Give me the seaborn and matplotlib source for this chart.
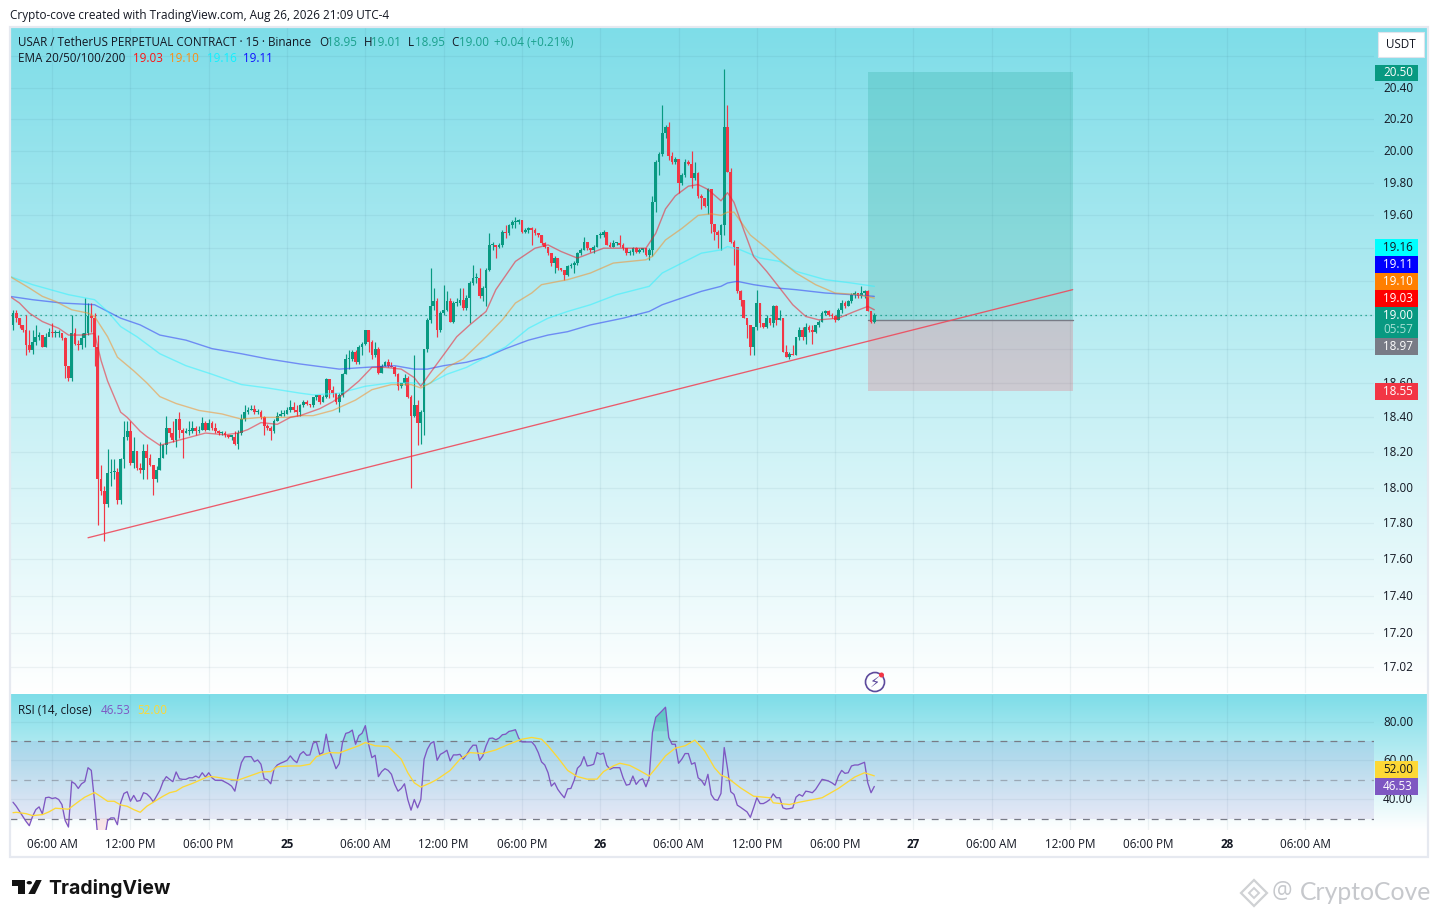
"""USAR/USDT 15m chart with EMAs, long position box and RSI pane."""
import matplotlib

matplotlib.use("Agg")
import matplotlib.pyplot as plt
import numpy as np
import seaborn as sns
from matplotlib.colors import LinearSegmentedColormap
from matplotlib.lines import Line2D
from matplotlib.patches import Circle, Polygon, Rectangle
from matplotlib.ticker import NullFormatter, NullLocator
from matplotlib.transforms import ScaledTranslation

W, H = 1438, 918

first_open = 18.94
closes = [
    19.01, 18.98, 18.94, 18.91, 18.82, 18.79, 18.84, 18.87, 18.88, 18.81,
    18.87, 18.90, 18.89, 18.89, 18.89, 18.86, 18.70, 18.63, 18.89, 18.83,
    18.82, 18.86, 18.89, 18.99, 18.98, 18.81, 18.05, 17.98, 17.91, 18.08,
    18.09, 18.09, 17.93, 18.16, 18.29, 18.32, 18.14, 18.21, 18.11, 18.10,
    18.21, 18.17, 18.13, 18.05, 18.10, 18.17, 18.24, 18.34, 18.31, 18.27,
    18.39, 18.33, 18.31, 18.32, 18.32, 18.34, 18.32, 18.33, 18.37, 18.33,
    18.37, 18.34, 18.32, 18.31, 18.31, 18.30, 18.29, 18.29, 18.25, 18.31,
    18.39, 18.43, 18.44, 18.45, 18.43, 18.43, 18.40, 18.35, 18.34, 18.32,
    18.38, 18.41, 18.42, 18.42, 18.44, 18.46, 18.44, 18.43, 18.47, 18.49,
    18.48, 18.47, 18.52, 18.53, 18.49, 18.52, 18.62, 18.56, 18.54, 18.49,
    18.53, 18.65, 18.74, 18.74, 18.78, 18.72, 18.81, 18.83, 18.91, 18.84,
    18.76, 18.80, 18.66, 18.70, 18.72, 18.70, 18.69, 18.65, 18.58, 18.60,
    18.63, 18.52, 18.41, 18.47, 18.37, 18.43, 18.80, 18.97, 19.05, 19.08,
    18.91, 19.01, 19.03, 19.08, 18.96, 19.07, 19.07, 19.09, 19.04, 19.10,
    19.19, 19.22, 19.22, 19.11, 19.16, 19.27, 19.42, 19.42, 19.41, 19.42,
    19.50, 19.49, 19.54, 19.56, 19.56, 19.57, 19.50, 19.51, 19.52, 19.51,
    19.49, 19.48, 19.43, 19.41, 19.37, 19.31, 19.34, 19.28, 19.27, 19.24,
    19.29, 19.30, 19.31, 19.37, 19.39, 19.44, 19.40, 19.39, 19.41, 19.48,
    19.48, 19.50, 19.42, 19.41, 19.43, 19.43, 19.42, 19.40, 19.37, 19.38,
    19.40, 19.38, 19.39, 19.40, 19.36, 19.39, 19.68, 19.93, 19.98, 20.11,
    20.15, 19.97, 19.93, 19.95, 19.80, 19.85, 19.93, 19.92, 19.83, 19.86,
    19.72, 19.71, 19.66, 19.76, 19.55, 19.50, 19.48, 19.54, 20.15, 19.87,
    19.44, 19.41, 19.14, 19.09, 18.98, 18.94, 18.81, 18.93, 19.07, 18.95,
    18.93, 18.98, 18.95, 19.05, 18.97, 18.98, 18.78, 18.75, 18.77, 18.76,
    18.87, 18.91, 18.87, 18.93, 18.91, 18.90, 18.94, 18.96, 19.01, 19.02,
    19.00, 18.99, 18.97, 19.03, 19.07, 19.05, 19.08, 19.12, 19.13, 19.11,
    19.13, 19.14, 19.02, 18.96, 19.00,
]
highs = [
    19.03, 19.03, 18.98, 18.94, 19.00, 18.91, 18.91, 18.94, 18.90, 18.87,
    18.89, 18.92, 18.95, 18.91, 18.91, 18.88, 18.87, 18.70, 19.00, 18.92,
    18.85, 18.89, 19.10, 19.07, 19.07, 19.01, 18.88, 18.13, 18.01, 18.22,
    18.16, 18.16, 18.11, 18.17, 18.38, 18.38, 18.38, 18.29, 18.21, 18.14,
    18.25, 18.25, 18.19, 18.13, 18.12, 18.26, 18.25, 18.41, 18.34, 18.38,
    18.39, 18.43, 18.34, 18.34, 18.38, 18.38, 18.35, 18.35, 18.40, 18.38,
    18.39, 18.38, 18.37, 18.33, 18.32, 18.32, 18.30, 18.30, 18.32, 18.33,
    18.42, 18.47, 18.46, 18.47, 18.47, 18.45, 18.44, 18.41, 18.36, 18.35,
    18.39, 18.43, 18.44, 18.44, 18.46, 18.50, 18.49, 18.47, 18.48, 18.50,
    18.50, 18.48, 18.52, 18.53, 18.53, 18.53, 18.63, 18.61, 18.58, 18.53,
    18.54, 18.66, 18.77, 18.79, 18.79, 18.79, 18.82, 18.84, 18.91, 18.91,
    18.85, 18.84, 18.81, 18.71, 18.73, 18.74, 18.72, 18.70, 18.66, 18.60,
    18.65, 18.64, 18.53, 18.76, 18.50, 18.44, 18.80, 18.98, 19.28, 19.16,
    19.10, 19.02, 19.18, 19.14, 19.10, 19.08, 19.10, 19.16, 19.16, 19.12,
    19.20, 19.30, 19.25, 19.28, 19.17, 19.28, 19.49, 19.44, 19.42, 19.43,
    19.51, 19.54, 19.55, 19.57, 19.59, 19.58, 19.57, 19.52, 19.53, 19.53,
    19.52, 19.49, 19.48, 19.44, 19.41, 19.37, 19.35, 19.34, 19.28, 19.27,
    19.30, 19.31, 19.32, 19.38, 19.40, 19.47, 19.44, 19.40, 19.42, 19.48,
    19.50, 19.51, 19.50, 19.44, 19.45, 19.44, 19.48, 19.43, 19.40, 19.39,
    19.41, 19.41, 19.40, 19.40, 19.40, 19.40, 19.72, 19.94, 19.99, 20.29,
    20.16, 20.18, 19.99, 19.96, 19.95, 19.86, 19.95, 19.94, 20.00, 19.93,
    19.87, 19.73, 19.71, 19.77, 19.76, 19.55, 19.51, 19.55, 20.52, 20.29,
    19.89, 19.45, 19.41, 19.15, 19.09, 18.97, 18.93, 18.93, 19.15, 19.07,
    18.95, 19.00, 18.98, 19.06, 19.06, 19.03, 18.98, 18.82, 18.78, 18.82,
    18.87, 18.93, 18.93, 18.95, 18.94, 18.94, 18.94, 18.97, 19.02, 19.03,
    19.03, 19.01, 19.00, 19.04, 19.09, 19.08, 19.09, 19.13, 19.14, 19.13,
    19.17, 19.15, 19.15, 19.01, 19.01,
]
lows = [
    18.91, 18.96, 18.92, 18.90, 18.76, 18.78, 18.77, 18.82, 18.85, 18.81,
    18.81, 18.89, 18.87, 18.87, 18.87, 18.85, 18.63, 18.61, 18.61, 18.82,
    18.79, 18.80, 18.81, 18.88, 18.90, 18.70, 17.79, 17.96, 17.70, 17.89,
    18.01, 18.05, 17.91, 17.91, 18.11, 18.27, 18.13, 18.11, 18.10, 18.08,
    18.05, 18.05, 18.12, 17.96, 18.03, 18.10, 18.17, 18.19, 18.29, 18.26,
    18.23, 18.28, 18.17, 18.31, 18.30, 18.31, 18.30, 18.31, 18.33, 18.32,
    18.33, 18.33, 18.31, 18.30, 18.30, 18.29, 18.28, 18.27, 18.24, 18.22,
    18.30, 18.38, 18.42, 18.44, 18.42, 18.42, 18.39, 18.30, 18.33, 18.27,
    18.31, 18.38, 18.41, 18.41, 18.42, 18.43, 18.43, 18.41, 18.41, 18.46,
    18.47, 18.46, 18.46, 18.50, 18.48, 18.49, 18.51, 18.51, 18.52, 18.48,
    18.43, 18.52, 18.65, 18.68, 18.73, 18.71, 18.71, 18.76, 18.82, 18.78,
    18.74, 18.75, 18.65, 18.66, 18.70, 18.69, 18.69, 18.64, 18.56, 18.57,
    18.59, 18.51, 18.00, 18.40, 18.24, 18.25, 18.30, 18.78, 18.95, 19.03,
    18.87, 18.90, 19.00, 19.02, 18.96, 18.95, 19.05, 19.06, 19.03, 19.03,
    18.95, 19.18, 19.19, 19.10, 19.08, 19.05, 19.26, 19.39, 19.34, 19.40,
    19.41, 19.46, 19.48, 19.52, 19.52, 19.55, 19.49, 19.49, 19.49, 19.42,
    19.48, 19.47, 19.42, 19.40, 19.36, 19.29, 19.25, 19.27, 19.26, 19.21,
    19.23, 19.28, 19.25, 19.30, 19.36, 19.39, 19.39, 19.38, 19.37, 19.41,
    19.46, 19.47, 19.42, 19.41, 19.41, 19.42, 19.41, 19.39, 19.36, 19.36,
    19.36, 19.37, 19.37, 19.38, 19.35, 19.33, 19.35, 19.62, 19.85, 19.97,
    20.08, 19.94, 19.92, 19.92, 19.74, 19.79, 19.84, 19.91, 19.77, 19.82,
    19.71, 19.64, 19.65, 19.61, 19.49, 19.45, 19.40, 19.39, 19.48, 19.87,
    19.43, 19.30, 19.13, 19.05, 18.98, 18.86, 18.76, 18.76, 18.91, 18.93,
    18.92, 18.92, 18.94, 18.93, 18.94, 18.97, 18.78, 18.75, 18.74, 18.76,
    18.76, 18.85, 18.85, 18.83, 18.90, 18.83, 18.89, 18.93, 18.96, 19.00,
    18.99, 18.98, 18.96, 18.97, 19.01, 19.04, 19.05, 19.07, 19.10, 19.10,
    19.10, 19.10, 19.02, 18.95, 18.95,
]
rsi = [
    38.4, 36.3, 33.7, 31.1, 28.5, 26.3, 31.1, 34.6, 36.0, 32.4,
    40.7, 41.0, 40.3, 40.7, 39.8, 37.2, 28.9, 25.6, 49.0, 47.9,
    45.5, 47.9, 49.0, 56.2, 54.8, 38.9, 19.9, 19.6, 19.0, 28.9,
    30.3, 30.3, 26.8, 38.1, 42.9, 43.8, 38.9, 41.9, 38.9, 39.3,
    43.3, 42.7, 41.0, 38.6, 41.5, 44.5, 49.0, 51.6, 50.2, 49.0,
    54.0, 50.5, 50.2, 50.2, 51.0, 51.0, 51.9, 51.0, 53.6, 51.4,
    53.6, 51.0, 49.7, 49.7, 49.7, 48.8, 47.9, 46.7, 44.1, 51.9,
    58.8, 61.8, 61.9, 61.9, 59.3, 60.2, 58.0, 50.5, 50.0, 47.9,
    55.4, 57.6, 58.5, 59.2, 60.0, 62.3, 60.2, 58.8, 63.1, 64.5,
    62.6, 62.8, 68.9, 69.5, 63.1, 64.0, 73.5, 64.9, 60.6, 55.7,
    58.3, 69.2, 73.9, 74.4, 75.6, 68.3, 72.7, 74.0, 77.9, 68.3,
    61.4, 62.6, 51.6, 54.2, 55.7, 54.8, 52.8, 47.6, 44.1, 45.5,
    47.9, 39.8, 34.3, 39.8, 35.5, 39.8, 60.6, 65.7, 68.7, 69.7,
    60.0, 63.1, 64.0, 65.2, 59.7, 62.8, 62.8, 63.1, 60.6, 62.8,
    65.7, 67.8, 67.8, 60.0, 62.3, 67.5, 71.3, 71.5, 70.6, 71.5,
    73.2, 73.5, 74.9, 75.3, 75.8, 71.5, 69.5, 69.5, 69.5, 69.5,
    67.5, 64.0, 59.2, 57.6, 53.6, 46.7, 48.4, 45.0, 42.7, 40.7,
    45.3, 45.5, 49.7, 55.9, 57.6, 61.9, 57.1, 57.4, 58.0, 64.0,
    63.1, 63.7, 57.4, 55.4, 56.2, 56.2, 56.2, 51.0, 47.2, 47.6,
    51.9, 47.6, 49.7, 50.5, 46.4, 51.0, 74.4, 82.2, 83.9, 85.6,
    87.4, 71.8, 68.3, 68.3, 58.5, 60.6, 63.5, 63.5, 58.0, 58.8,
    51.0, 49.7, 47.1, 52.8, 42.4, 39.8, 39.4, 42.9, 66.6, 55.9,
    43.8, 42.4, 36.9, 35.8, 34.6, 33.4, 30.6, 35.5, 40.7, 37.7,
    37.7, 38.6, 39.8, 42.7, 40.7, 40.7, 35.5, 34.9, 35.1, 35.5,
    41.0, 42.4, 41.5, 44.1, 43.8, 43.3, 45.0, 47.6, 50.2, 49.8,
    49.3, 48.4, 47.2, 51.9, 54.8, 53.3, 53.6, 57.1, 57.6, 57.6,
    58.3, 59.0, 48.4, 43.3, 46.53,
]
rsi_ma_bars = [
    0, 1, 4, 6, 9, 11, 13, 17, 20, 22, 25, 27, 29, 31, 33, 35, 37, 39, 41, 43,
    46, 48, 50, 52, 55, 58, 60, 62, 66, 69, 72, 76, 79, 81, 85, 88, 91, 93, 97,
    100, 103, 106, 108, 111, 115, 119, 121, 123, 125, 128, 130, 134, 137, 140,
    144, 148, 152, 156, 159, 162, 164, 167, 170, 173, 176, 179, 181, 184, 186,
    189, 192, 195, 197, 200, 203, 206, 209, 212, 215, 217, 219, 223, 227, 232,
    233, 238, 241, 248, 253, 258, 261, 264,
]
rsi_ma = [
    33.0, 33.2, 32.5, 31.5, 32.0, 33.4, 35.3, 34.8, 38.6, 41.0, 43.4, 41.2, 38.9, 38.9,
    37.0, 36.3, 34.6, 33.2, 36.3, 38.4, 41.5, 43.3, 44.1, 46.2, 48.1, 50.3, 51.7, 51.4,
    50.3, 49.8, 51.6, 54.0, 54.2, 56.7, 57.1, 57.1, 58.0, 61.9, 64.0, 63.8, 65.7, 67.5,
    69.2, 67.5, 67.1, 60.6, 53.6, 48.4, 46.2, 48.4, 50.2, 54.8, 60.6, 64.0, 63.5, 65.4,
    68.3, 70.9, 71.8, 70.9, 67.5, 61.4, 54.8, 51.6, 50.3, 50.3, 54.2, 57.1, 58.5, 57.4,
    54.8, 51.9, 55.9, 62.3, 66.3, 67.5, 70.4, 64.9, 56.2, 52.4, 51.0, 45.8, 41.5, 40.7,
    38.1, 37.2, 38.4, 40.7, 45.5, 51.4, 53.6, 52.0,
]

ema20_bars = [
    -1, 2, 5, 9, 14, 17, 21, 25, 27, 29, 31, 33, 35, 39, 41, 45, 47, 53, 59, 65, 69, 72,
    76, 81, 85, 88, 94, 98, 101, 106, 110, 114, 119, 123, 125, 128, 133, 136, 140, 145,
    148, 154, 160, 164, 168, 173, 177, 181, 188, 194, 197, 200, 203, 207, 210, 213, 217,
    219, 221, 224, 227, 231, 235, 239, 243, 247, 253, 258, 262, 264,
]
ema20 = [
    19.11, 19.07, 19.01, 18.96, 18.92, 18.88, 18.88, 18.89, 18.73, 18.61, 18.52, 18.43,
    18.40, 18.32, 18.29, 18.24, 18.25, 18.28, 18.31, 18.30, 18.31, 18.33, 18.37, 18.36,
    18.40, 18.41, 18.45, 18.49, 18.53, 18.61, 18.69, 18.69, 18.68, 18.63, 18.58, 18.66,
    18.79, 18.87, 18.94, 19.02, 19.15, 19.32, 19.40, 19.42, 19.38, 19.34, 19.37, 19.40,
    19.40, 19.40, 19.49, 19.64, 19.72, 19.78, 19.79, 19.76, 19.69, 19.74, 19.68, 19.51,
    19.35, 19.26, 19.16, 19.06, 18.99, 18.97, 18.98, 19.02, 19.05, 19.03,
]
ema50_bars = [
    -1, 5, 9, 13, 18, 23, 25, 29, 32, 37, 41, 45, 50, 57, 64, 70, 76, 84, 88, 92, 98,
    105, 110, 116, 122, 125, 128, 133, 138, 144, 150, 154, 159, 162, 170, 177, 184, 194,
    196, 200, 205, 210, 214, 217, 219, 221, 226, 231, 235, 240, 246, 252, 259, 264,
]
ema50 = [
    19.23, 19.16, 19.11, 19.08, 19.03, 19.01, 18.99, 18.87, 18.75, 18.67, 18.60, 18.52,
    18.48, 18.44, 18.42, 18.39, 18.40, 18.40, 18.41, 18.41, 18.44, 18.50, 18.56, 18.59,
    18.59, 18.57, 18.60, 18.69, 18.74, 18.85, 18.97, 19.07, 19.13, 19.18, 19.21, 19.25,
    19.31, 19.33, 19.35, 19.45, 19.52, 19.60, 19.61, 19.60, 19.62, 19.62, 19.48, 19.40,
    19.33, 19.25, 19.18, 19.13, 19.12, 19.10,
]
ema100_bars = [
    -1, 6, 17, 25, 29, 33, 38, 45, 53, 61, 70, 78, 88, 92, 100, 108, 116, 122, 127, 133,
    139, 145, 151, 158, 164, 170, 177, 185, 195, 199, 205, 211, 217, 219, 223, 229, 235,
    240, 249, 257, 264,
]
ema100 = [
    19.23, 19.18, 19.12, 19.09, 19.02, 18.93, 18.87, 18.77, 18.70, 18.65, 18.59, 18.57,
    18.54, 18.53, 18.54, 18.58, 18.60, 18.60, 18.59, 18.65, 18.69, 18.75, 18.81, 18.92,
    18.98, 19.02, 19.06, 19.12, 19.17, 19.25, 19.31, 19.37, 19.39, 19.41, 19.39, 19.34,
    19.32, 19.26, 19.21, 19.19, 19.17,
]
ema200_bars = [
    -1, 6, 15, 25, 29, 33, 39, 45, 53, 61, 70, 78, 88, 100, 108, 117, 123, 127, 132, 139,
    145, 151, 158, 164, 170, 177, 187, 195, 199, 205, 211, 217, 219, 222, 227, 234, 240,
    249, 257, 264,
]
ema200 = [
    19.11, 19.09, 19.07, 19.06, 19.02, 18.98, 18.94, 18.88, 18.85, 18.80, 18.77, 18.74,
    18.71, 18.68, 18.69, 18.70, 18.68, 18.68, 18.70, 18.72, 18.75, 18.80, 18.85, 18.88,
    18.90, 18.94, 18.98, 19.02, 19.06, 19.10, 19.14, 19.17, 19.19, 19.20, 19.18, 19.16,
    19.15, 19.13, 19.12, 19.11,
]

# trendline and long position (hours since Aug 24 00:00, price)
trend_hours = [8.75, 84.2]
trend_prices = [17.72, 19.15]
position_hours = [68.5, 84.25]
entry_price, target_price, stop_price = 18.97, 20.50, 18.55

price_ticks = [17.02, 17.20, 17.40, 17.60, 17.80, 18.00, 18.20, 18.40, 18.60, 18.80,
               19.00, 19.20, 19.40, 19.60, 19.80, 20.00, 20.20, 20.40, 20.60]
hidden_price_ticks = [18.80, 19.00, 19.20, 19.40, 20.60]
time_ticks = [6, 12, 18, 24, 30, 36, 42, 48, 54, 60, 66, 72, 78, 84, 90, 96, 102]
time_labels = ["06:00 AM", "12:00 PM", "06:00 PM", "25", "06:00 AM", "12:00 PM", "06:00 PM", "26",
               "06:00 AM", "12:00 PM", "06:00 PM", "27", "06:00 AM", "12:00 PM", "06:00 PM", "28",
               "06:00 AM"]
rsi_ticks = [40, 60, 80]

GREEN, RED, PURPLE, YELLOW = "#089981", "#f23645", "#7e57c2", "#fdd835"
TEXT = "#131722"

sns.set_theme(style="white")
plt.rcParams["font.family"] = ["Open Sans", "DejaVu Sans"]
plt.rcParams["font.size"] = 8.4


def fx(px):
    return px / W


def fy(py):
    return 1 - py / H


def px_axes(left, top, right, bottom, **kw):
    return fig.add_axes([fx(left), fy(bottom), (right - left) / W, (bottom - top) / H], **kw)


def bar_hours(bars):
    return 3 + 0.25 * np.asarray(bars, dtype=float)


fig = plt.figure(figsize=(W / 100, H / 100), dpi=100, facecolor="white")

# panel backgrounds, the rsi one fades out above the time scale
cmap = LinearSegmentedColormap.from_list("tv", ["#7edde8", "#ffffff"])
for top, bottom in [(27, 694), (694, 830)]:
    bg = px_axes(10, top, 1428, bottom, zorder=-2)
    bg.imshow(np.linspace(0, 1, 256).reshape(-1, 1), aspect="auto", cmap=cmap, vmin=0, vmax=1)
    bg.axis("off")
fig.add_artist(Rectangle((fx(10), fy(857)), 1418 / W, 830 / H, transform=fig.transFigure,
                         fill=False, ec="#e6e9f0", lw=1.6))

xlim = (3 + (10 - 13) / 13.05, 3 + (1374 - 13) / 13.05)
tick_up = ScaledTranslation(0, 1 / 100, fig.dpi_scale_trans)

# ---- price pane
ax = px_axes(10, 27, 1374, 693, facecolor="none")
ax.set_yscale("log")
ax.set_xlim(*xlim)
ax.set_ylim(16.88, 20.79)
hours = bar_hours(np.arange(len(closes)))
c = np.array(closes)
o = np.array([first_open] + closes[:-1])
up = c >= o

ax.fill_between(position_hours, entry_price, target_price, color=GREEN, alpha=0.19, lw=0, zorder=1)
ax.fill_between(position_hours, stop_price, entry_price, color=RED, alpha=0.2, lw=0, zorder=1)
ax.plot(position_hours, [entry_price, entry_price], color="#787b86", lw=1, zorder=1.5)
ax.axhline(closes[-1], color=GREEN, ls=(0, (1, 3)), lw=0.9, zorder=1.5)

sns.lineplot(x=trend_hours, y=trend_prices, ax=ax, color="#ee4a5c", lw=0.95, alpha=0.9, zorder=2,
             estimator=None, legend=False)
ax.vlines(hours, lows, highs, colors=np.where(up, GREEN, RED), lw=0.85, zorder=3)
ax.bar(hours, np.maximum(np.abs(c - o), 0.006), bottom=np.minimum(o, c), width=0.21,
       color=np.where(up, GREEN, RED), lw=0, zorder=3)
for bars, vals, col in [(ema200_bars, ema200, "#2f3cf5"), (ema100_bars, ema100, "#2ff2ff"),
                        (ema50_bars, ema50, "#f5902a"), (ema20_bars, ema20, "#f01c2c")]:
    sns.lineplot(x=bar_hours(bars), y=vals, ax=ax, color=col, lw=1.0, alpha=0.55, zorder=4,
                 estimator=None, legend=False)

ax.set_yticks(price_ticks)
ax.set_yticklabels(["" if t in hidden_price_ticks else f"{t:.2f}" for t in price_ticks])
ax.yaxis.set_minor_locator(NullLocator())
ax.yaxis.set_minor_formatter(NullFormatter())
ax.yaxis.tick_right()
ax.set_xticks(time_ticks)
ax.set_xticklabels([])
ax.tick_params(length=0, pad=6.5, labelsize=8.4, labelcolor=TEXT)
for lab in ax.get_yticklabels():
    lab.set_transform(lab.get_transform() + tick_up)
ax.grid(True, color="#2a5a70", alpha=0.07, lw=0.9, zorder=0)
ax.set_axisbelow(True)
ax.set_xlabel("")
ax.set_ylabel("")
sns.despine(ax=ax, left=True, bottom=True)

# ---- rsi pane
ax2 = px_axes(10, 695, 1374, 830, facecolor="none")
ax2.set_xlim(*xlim)
ax2.set_ylim(24.07, 93.7)
rsi_arr = np.array(rsi)
ax2.axhspan(30, 70, color=PURPLE, alpha=0.12, lw=0, zorder=1)
for level in [70, 75, 80]:
    ax2.fill_between(hours, level, rsi_arr, where=rsi_arr > level, interpolate=True, color=GREEN,
                     alpha=0.13, lw=0, zorder=1.5)
ax2.fill_between(hours, 30, rsi_arr, where=rsi_arr < 30, interpolate=True, color=RED, alpha=0.12,
                 lw=0, zorder=1.5)
ax2.axhline(70, color="#787b86", ls=(0, (5.5, 5.5)), lw=0.9, zorder=2)
ax2.axhline(50, color="#787b86", ls=(0, (5.5, 5.5)), lw=0.9, alpha=0.55, zorder=2)
ax2.axhline(30, color="#787b86", ls=(0, (5.5, 5.5)), lw=0.9, zorder=2)
sns.lineplot(x=hours, y=rsi, ax=ax2, color=PURPLE, lw=0.95, zorder=3, estimator=None, legend=False)
sns.lineplot(x=bar_hours(rsi_ma_bars), y=rsi_ma, ax=ax2, color=YELLOW, lw=0.95, zorder=3.5,
             estimator=None, legend=False)
ax2.set_yticks(rsi_ticks)
ax2.set_yticklabels([f"{t:.2f}" for t in rsi_ticks])
ax2.yaxis.tick_right()
ax2.set_xticks(time_ticks)
ax2.set_xticklabels(time_labels)
for lab, txt in zip(ax2.get_xticklabels(), time_labels):
    if len(txt) == 2:
        lab.set_fontweight("bold")
ax2.tick_params(axis="y", length=0, pad=6.5, labelsize=8.4, labelcolor=TEXT)
ax2.tick_params(axis="x", length=0, pad=5.5, labelsize=8.4, labelcolor=TEXT)
for lab in ax2.get_yticklabels():
    lab.set_transform(lab.get_transform() + tick_up)
ax2.grid(True, color="#2a5a70", alpha=0.07, lw=0.9, zorder=0)
ax2.set_axisbelow(True)
ax2.set_xlabel("")
ax2.set_ylabel("")
sns.despine(ax=ax2, left=True, bottom=True)


# ---- texts and price labels
def put(px, py, s, color=TEXT, size=8.4, ha="left", va="center", **kw):
    fig.text(fx(px), fy(py), s, color=color, size=size, ha=ha, va=va, zorder=6, **kw)


def price_box(top, bottom, color):
    fig.add_artist(Rectangle((fx(1375), fy(bottom)), 43 / W, (bottom - top) / H, transform=fig.transFigure,
                             color=color, lw=0, zorder=5))


put(10, 15, "Crypto-cove created with TradingView.com, Aug 26, 2026 21:09 UTC-4", size=8.45)
put(18, 42, "USAR / TetherUS PERPETUAL CONTRACT · 15 · Binance")
legend_green = "#1aa08c"
for lx, letter, vx, val in [(319, "O", 327, "18.95"), (364, "H", 371, "19.01"),
                            (408, "L", 415, "18.95"), (451, "C", 459, "19.00")]:
    put(lx, 42, letter)
    put(vx, 42, val, color=legend_green)
put(494, 42, "+0.04 (+0.21%)", color=legend_green)
put(18, 59, "EMA 20/50/100/200")
for lx, val, col in [(133, "19.03", "#ff1010"), (169, "19.10", "#ff8c10"), (207, "19.16", "#10f0ff"),
                     (243, "19.11", "#1010ff")]:
    put(lx, 59, val, color=col)
put(18, 710, "RSI (14, close)")
put(101, 710, "46.53", color=PURPLE)
put(137, 710, "52.00", color=YELLOW)

for top, bottom, col, val, tcol in [
    (65, 81, GREEN, "20.50", "white"), (239, 256, "#00ffff", "19.16", "#131722"),
    (256, 273, "#0000ff", "19.11", "white"), (273, 290, "#ff7f00", "19.10", "white"),
    (290, 307, "#ff0000", "19.03", "white"), (338, 355, "#787b86", "18.97", "white"),
    (383, 400, RED, "18.55", "white"), (761, 778, YELLOW, "52.00", "#131722"),
    (778, 795, PURPLE, "46.53", "white"),
]:
    price_box(top, bottom, col)
    put(1398, (top + bottom) / 2, val, color=tcol, ha="center")
price_box(307, 338, GREEN)
put(1398, 315.5, "19.00", color="white", ha="center")
put(1398, 329.5, "05:57", color="#a5e0d5", ha="center")

# USDT button
fig.add_artist(Rectangle((fx(1378), fy(57)), 46 / W, 25 / H, transform=fig.transFigure,
                         fc="white", ec="#e0e3eb", lw=0.8, zorder=5))
put(1401, 44.5, "USDT", ha="center")

# lightning badge
ring_ax = px_axes(863, 670, 887, 694, facecolor="none", zorder=5)
ring_ax.set_xlim(-12, 12)
ring_ax.set_ylim(-12, 12)
ring_ax.axis("off")
ring_ax.add_patch(Circle((0, 0), 9.5, fill=False, ec="#5d4a9c", lw=1.2))
ring_ax.text(0, -0.5, "\u26a1", ha="center", va="center", size=10.5, color="#5d4a9c", family="DejaVu Sans")
ring_ax.add_patch(Circle((6.5, 7), 2.5, color="#f23645", lw=0))

# TradingView logo
for pts in [[(12, 880), (25, 880), (25, 894), (18.3, 894), (18.3, 886), (12, 886)],
            [(36, 880), (41.7, 880), (35, 894), (28.3, 894)]]:
    fig.add_artist(Polygon([(fx(a), fy(b)) for a, b in pts], transform=fig.transFigure, fc="#131313", lw=0))
fig.add_artist(Circle((fx(29.3), fy(882.7)), 2.7 / W, transform=fig.transFigure, color="#131313", lw=0))
put(48.5, 888, "TradingView", color="#131313", size=14, family="Inter", weight="bold")

# watermark
fig.add_artist(Line2D([fx(1254)], [fy(893)], transform=fig.transFigure, marker="D", ms=13, mfc="none",
                      mec="#cfd1d4", mew=1.6))
fig.add_artist(Line2D([fx(1254)], [fy(893)], transform=fig.transFigure, marker="D", ms=5, mfc="none",
                      mec="#cfd1d4", mew=1.4))
put(1272, 892, "@", color="#c6c8cc", size=16.5)
put(1300, 893, "CryptoCove", color="#c6c8cc", size=17.8, family="Lato")

fig.savefig("out.png", dpi=100)
